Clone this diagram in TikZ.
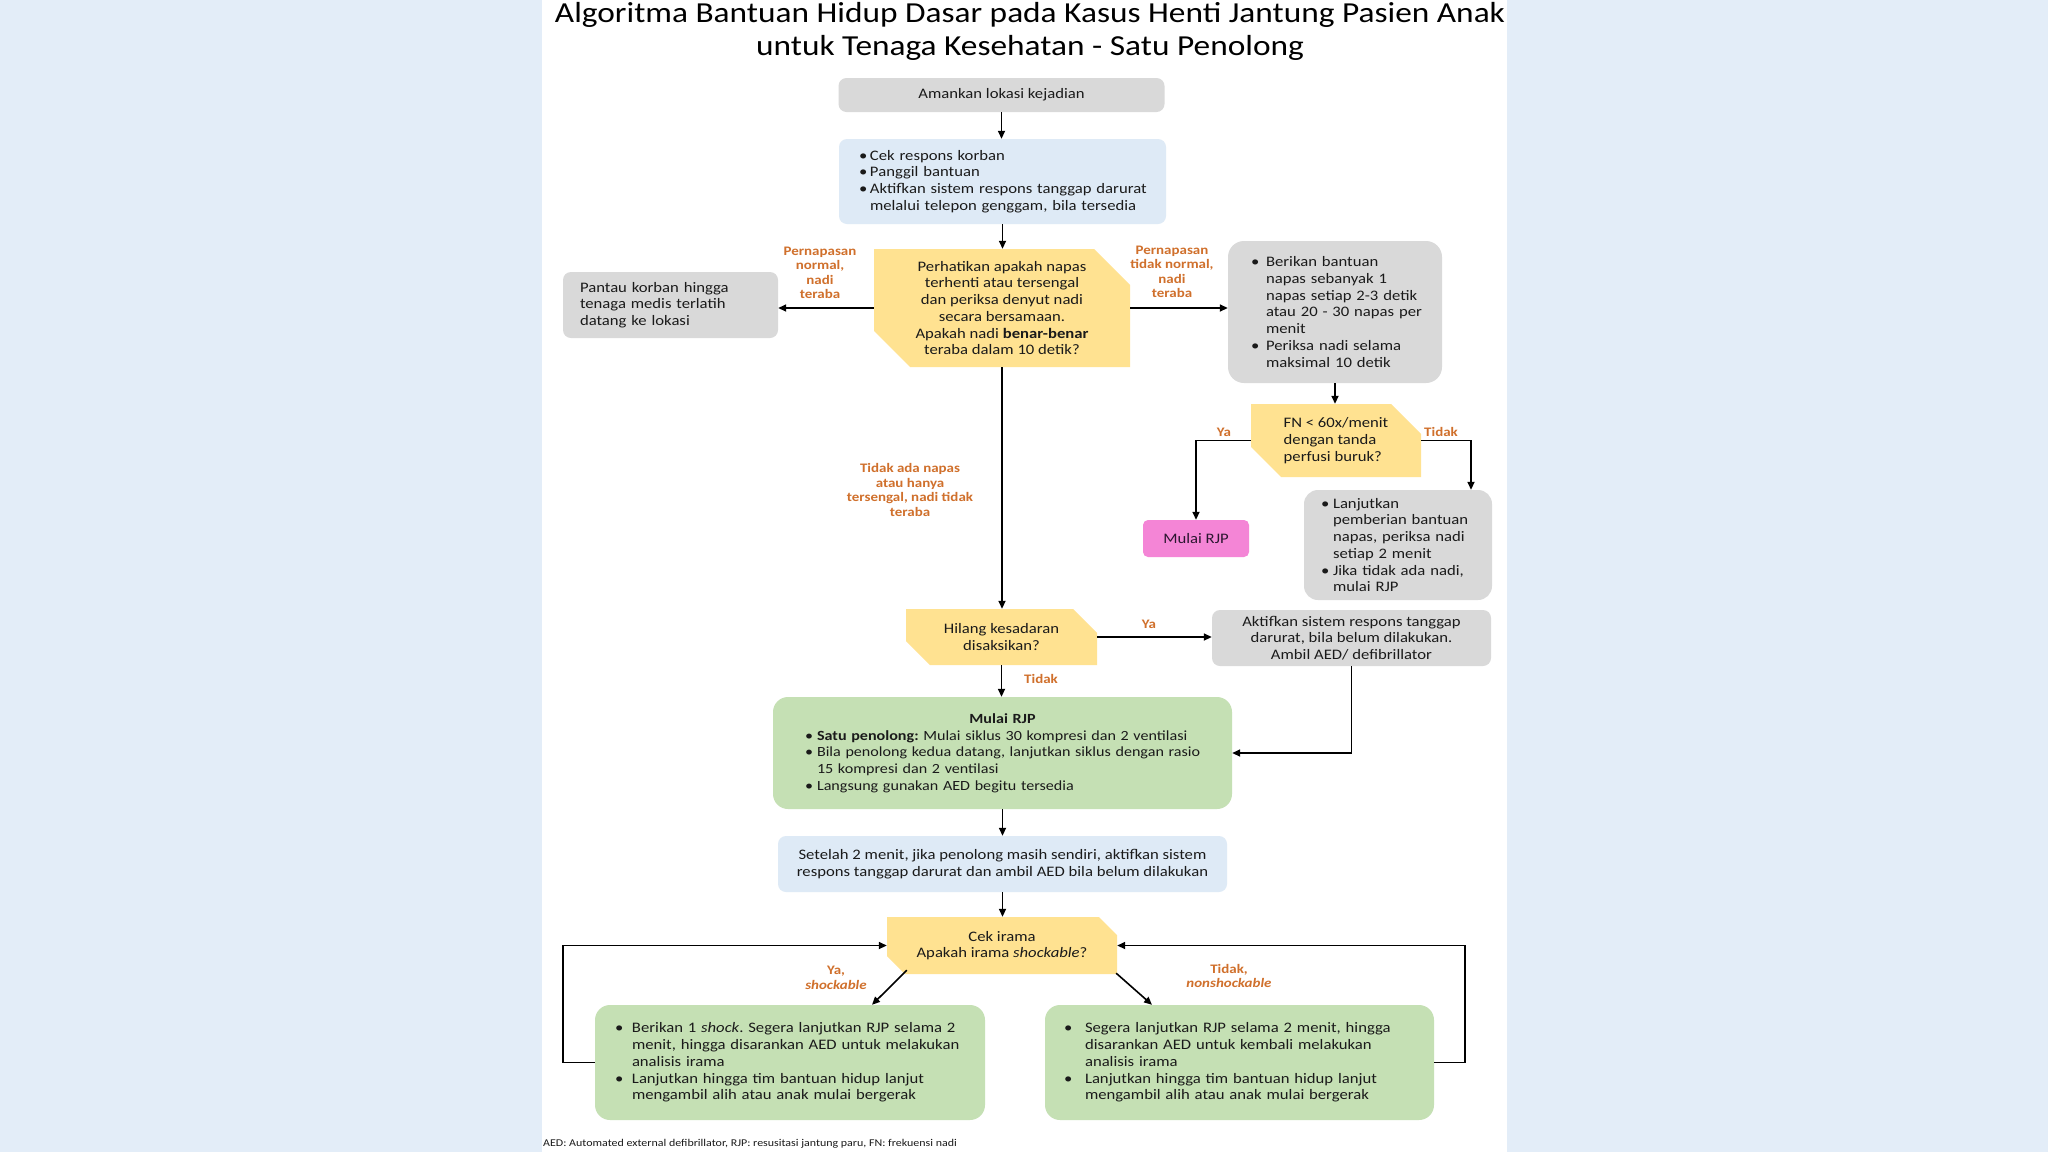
\documentclass[tikz,border=0pt]{standalone}
\usepackage{fontspec}
\setmainfont{Carlito}[FakeStretch=1.15]
\usetikzlibrary{arrows.meta,calc}
\definecolor{bgblue}{HTML}{E3EDF8}
\definecolor{boxgray}{HTML}{D9D9D9}
\definecolor{boxblue}{HTML}{DEEAF6}
\definecolor{yel}{HTML}{FFE291}
\definecolor{grn}{HTML}{C5E0B4}
\definecolor{pnk}{HTML}{F485D6}
\definecolor{org}{HTML}{D0702C}
\definecolor{txt}{HTML}{1A1A1A}
\definecolor{txtdark}{HTML}{2B1630}
\newcommand\fbody{\fontsize{14.5}{16.7}\selectfont}
\newcommand\flab{\fontsize{13}{14.5}\selectfont\bfseries}
\newlength\bind
\newcommand\bl[1]{\makebox[\bind][l]{\textbullet}\mbox{#1}}
\newcommand\cl[1]{\hspace*{\bind}\mbox{#1}}
\def\cutsz{20pt}
\frenchspacing
\begin{document}
\begin{tikzpicture}[x=1pt,y=-1pt,
  gbox/.style={rounded corners=8pt, fill=boxgray, inner sep=0pt, text=txt, font=\fbody},
  bbox/.style={rounded corners=8pt, fill=boxblue, inner sep=0pt, text=txt, font=\fbody},
  grbox/.style={rounded corners=15pt, fill=grn, inner sep=0pt, text=txt, font=\fbody},
  cutsize/.code={\def\cutsz{#1}},
  dec/.style={fill=white, inner sep=0pt, font=\fbody, text=txt,
    path picture={\fill[yel] (path picture bounding box.north west)
      -- ([xshift=-\cutsz]path picture bounding box.north east)
      -- ([yshift=-\cutsz]path picture bounding box.north east)
      -- (path picture bounding box.south east)
      -- ([xshift=\cutsz]path picture bounding box.south west)
      -- ([yshift=\cutsz]path picture bounding box.south west) -- cycle;}},
  lab/.style={font=\flab, text=org, align=center, inner sep=0pt},
  arr/.style={draw=black, line width=1.6pt, -{Triangle[length=8pt,width=7pt]}}
]
\useasboundingbox (0,0) rectangle (2048,1152);
\fill[bgblue] (0,0) rectangle (2048,1152);
\fill[white] (542,0) rectangle (1507,1152);

\node[font=\fontsize{29}{33}\selectfont, align=center, text=black, inner sep=0pt] (title) at (1030,31)
  {Algoritma Bantuan Hidup Dasar pada Kasus Henti Jantung Pasien Anak\\untuk Tenaga Kesehatan - Satu Penolong};

\node[gbox, minimum width=326pt, minimum height=34pt] (b1) at (1001.5,95) {Amankan lokasi kejadian};

\node[bbox, minimum width=327pt, minimum height=85pt, text width=287pt, inner xsep=20pt, align=left,
  font={\fbody\setlength\bind{11pt}}] (b2) at (1002.5,181.5)
  {\bl{Cek respons korban}\\\bl{Panggil bantuan}\\\bl{Aktifkan sistem respons tanggap darurat}\\\cl{melalui telepon genggam, bila tersedia}};

\node[dec, cutsize=36pt, minimum width=256pt, minimum height=118pt, align=center] (d1) at (1002,308)
  {Perhatikan apakah napas\\terhenti atau tersengal\\dan periksa denyut nadi\\secara bersamaan.\\Apakah nadi \textbf{benar-benar}\\teraba dalam 10 detik?};

\node[gbox, minimum width=215pt, minimum height=66pt, text width=181pt, inner xsep=17pt, align=left] (l1) at (670.5,305)
  {Pantau korban hingga\\tenaga medis terlatih\\datang ke lokasi};

\node[gbox, rounded corners=16pt, minimum width=214pt, minimum height=142pt, text width=168pt, inner xsep=23pt, align=left,
  font={\fbody\setlength\bind{15pt}}] (r1) at (1335,312)
  {\bl{Berikan bantuan}\\\cl{napas sebanyak 1}\\\cl{napas setiap 2-3 detik}\\\cl{atau 20 - 30 napas per}\\\cl{menit}\\\bl{Periksa nadi selama}\\\cl{maksimal 10 detik}};

\node[dec, cutsize=30pt, minimum width=170pt, minimum height=73pt, align=left] (fn) at (1336,440.5)
  {FN < 60x/menit\\dengan tanda\\perfusi buruk?};

\node[rounded corners=5pt, fill=pnk, minimum width=106pt, minimum height=37pt, inner sep=0pt, font=\fbody, text=txtdark] (rjp) at (1196,538.5) {Mulai RJP};

\node[gbox, rounded corners=14pt, minimum width=188pt, minimum height=110pt, text width=154pt, inner xsep=17pt, align=left,
  font={\fbody\setlength\bind{12pt}}] (r2) at (1398,545)
  {\bl{Lanjutkan}\\\cl{pemberian bantuan}\\\cl{napas, periksa nadi}\\\cl{setiap 2 menit}\\\bl{Jika tidak ada nadi,}\\\cl{mulai RJP}};

\node[dec, cutsize=24pt, minimum width=191pt, minimum height=56pt, align=center] (d2) at (1001.5,637)
  {Hilang kesadaran\\disaksikan?};

\node[gbox, minimum width=279pt, minimum height=56pt, align=center] (aed) at (1351.5,638)
  {Aktifkan sistem respons tanggap\\darurat, bila belum dilakukan.\\Ambil AED/ defibrillator};

\node[grbox, minimum width=459pt, minimum height=112pt, text width=395pt, inner xsep=32pt, align=left,
  font={\fontsize{14}{16.7}\selectfont\setlength\bind{12pt}}] (g1) at (1002.5,753)
  {\makebox[\hsize][c]{\textbf{Mulai RJP}}\\\bl{\textbf{Satu penolong:} Mulai siklus 30 kompresi dan 2 ventilasi}\\\bl{Bila penolong kedua datang, lanjutkan siklus dengan rasio}\\\cl{15 kompresi dan 2 ventilasi}\\\bl{Langsung gunakan AED begitu tersedia}};

\node[bbox, minimum width=449pt, minimum height=56pt, align=center] (s2) at (1002.5,864)
  {Setelah 2 menit, jika penolong masih sendiri, aktifkan sistem\\respons tanggap darurat dan ambil AED bila belum dilakukan};

\node[dec, cutsize=18pt, minimum width=230pt, minimum height=57pt, align=center] (d3) at (1002,945.5)
  {Cek irama\\Apakah irama \textit{shockable}?};

\node[grbox, minimum width=390pt, minimum height=115pt, text width=350pt, inner xsep=20pt, align=left,
  font={\fbody\setlength\bind{17pt}}] (gl) at (790,1062.5)
  {\bl{Berikan 1 \textit{shock}. Segera lanjutkan RJP selama 2}\\\cl{menit, hingga disarankan AED untuk melakukan}\\\cl{analisis irama}\\\bl{Lanjutkan hingga tim bantuan hidup lanjut}\\\cl{mengambil alih atau anak mulai bergerak}};

\node[grbox, minimum width=389pt, minimum height=115pt, text width=351pt, inner xsep=19pt, align=left,
  font={\fbody\setlength\bind{21pt}}] (gr) at (1239.5,1062.5)
  {\bl{Segera lanjutkan RJP selama 2 menit, hingga}\\\cl{disarankan AED untuk kembali melakukan}\\\cl{analisis irama}\\\bl{Lanjutkan hingga tim bantuan hidup lanjut}\\\cl{mengambil alih atau anak mulai bergerak}};

% labels
\node[lab] (lb1) at (820,273) {Pernapasan\\normal,\\nadi\\teraba};
\node[lab] (lb2) at (1172,272) {Pernapasan\\tidak normal,\\nadi\\teraba};
\node[lab] (lb3) at (1224,432) {Ya};
\node[lab] (lb4) at (1441,432) {Tidak};
\node[lab] (lb5) at (910,490) {Tidak ada napas\\atau hanya\\tersengal, nadi tidak\\teraba};
\node[lab] (lb6) at (1149,624) {Ya};
\node[lab] (lb7) at (1041,679) {Tidak};
\node[lab] (lb8) at (836,978) {Ya,\\\textit{shockable}};
\node[lab] (lb9) at (1229,976) {Tidak,\\\textit{nonshockable}};

\node[font=\fontsize{10.4}{12}\selectfont, text=txt, anchor=base west, inner sep=0pt] (foot) at (543,1146)
  {AED: Automated external defibrillator, RJP: resusitasi jantung paru, FN: frekuensi nadi};

% connectors
\draw[arr] (b1.south) -- (b1.south |- b2.north);
\draw[arr] (b2.south) -- (b2.south |- d1.north);
\draw[arr] (d1.west) -- (d1.west -| l1.east);
\draw[arr] (d1.east) -- (d1.east -| r1.west);
\draw[arr] (r1.south) -- (r1.south |- fn.north);
\draw[arr] (fn.west) -| (rjp.north);
\draw[arr] (fn.east) -| ([xshift=73pt]r2.north);
\draw[arr] (d1.south) -- (d1.south |- d2.north);
\draw[arr] (d2.east) -- (d2.east -| aed.west);
\draw[arr] (aed.south) |- (g1.east);
\draw[arr] (d2.south) -- (d2.south |- g1.north);
\draw[arr] (g1.south) -- (g1.south |- s2.north);
\draw[arr] (s2.south) -- (s2.south |- d3.north);
\draw[arr] ([xshift=20pt,yshift=4pt]d3.south west) -- ([xshift=82pt]gl.north);
\draw[arr] ([xshift=-1pt,yshift=1pt]d3.south east) -- ([xshift=-87.5pt]gr.north);
\draw[arr] (gl.west) -- ++(-32,0) |- (d3.west);
\draw[arr] (gr.east) -- ++(31,0) |- (d3.east);
\end{tikzpicture}
\end{document}
